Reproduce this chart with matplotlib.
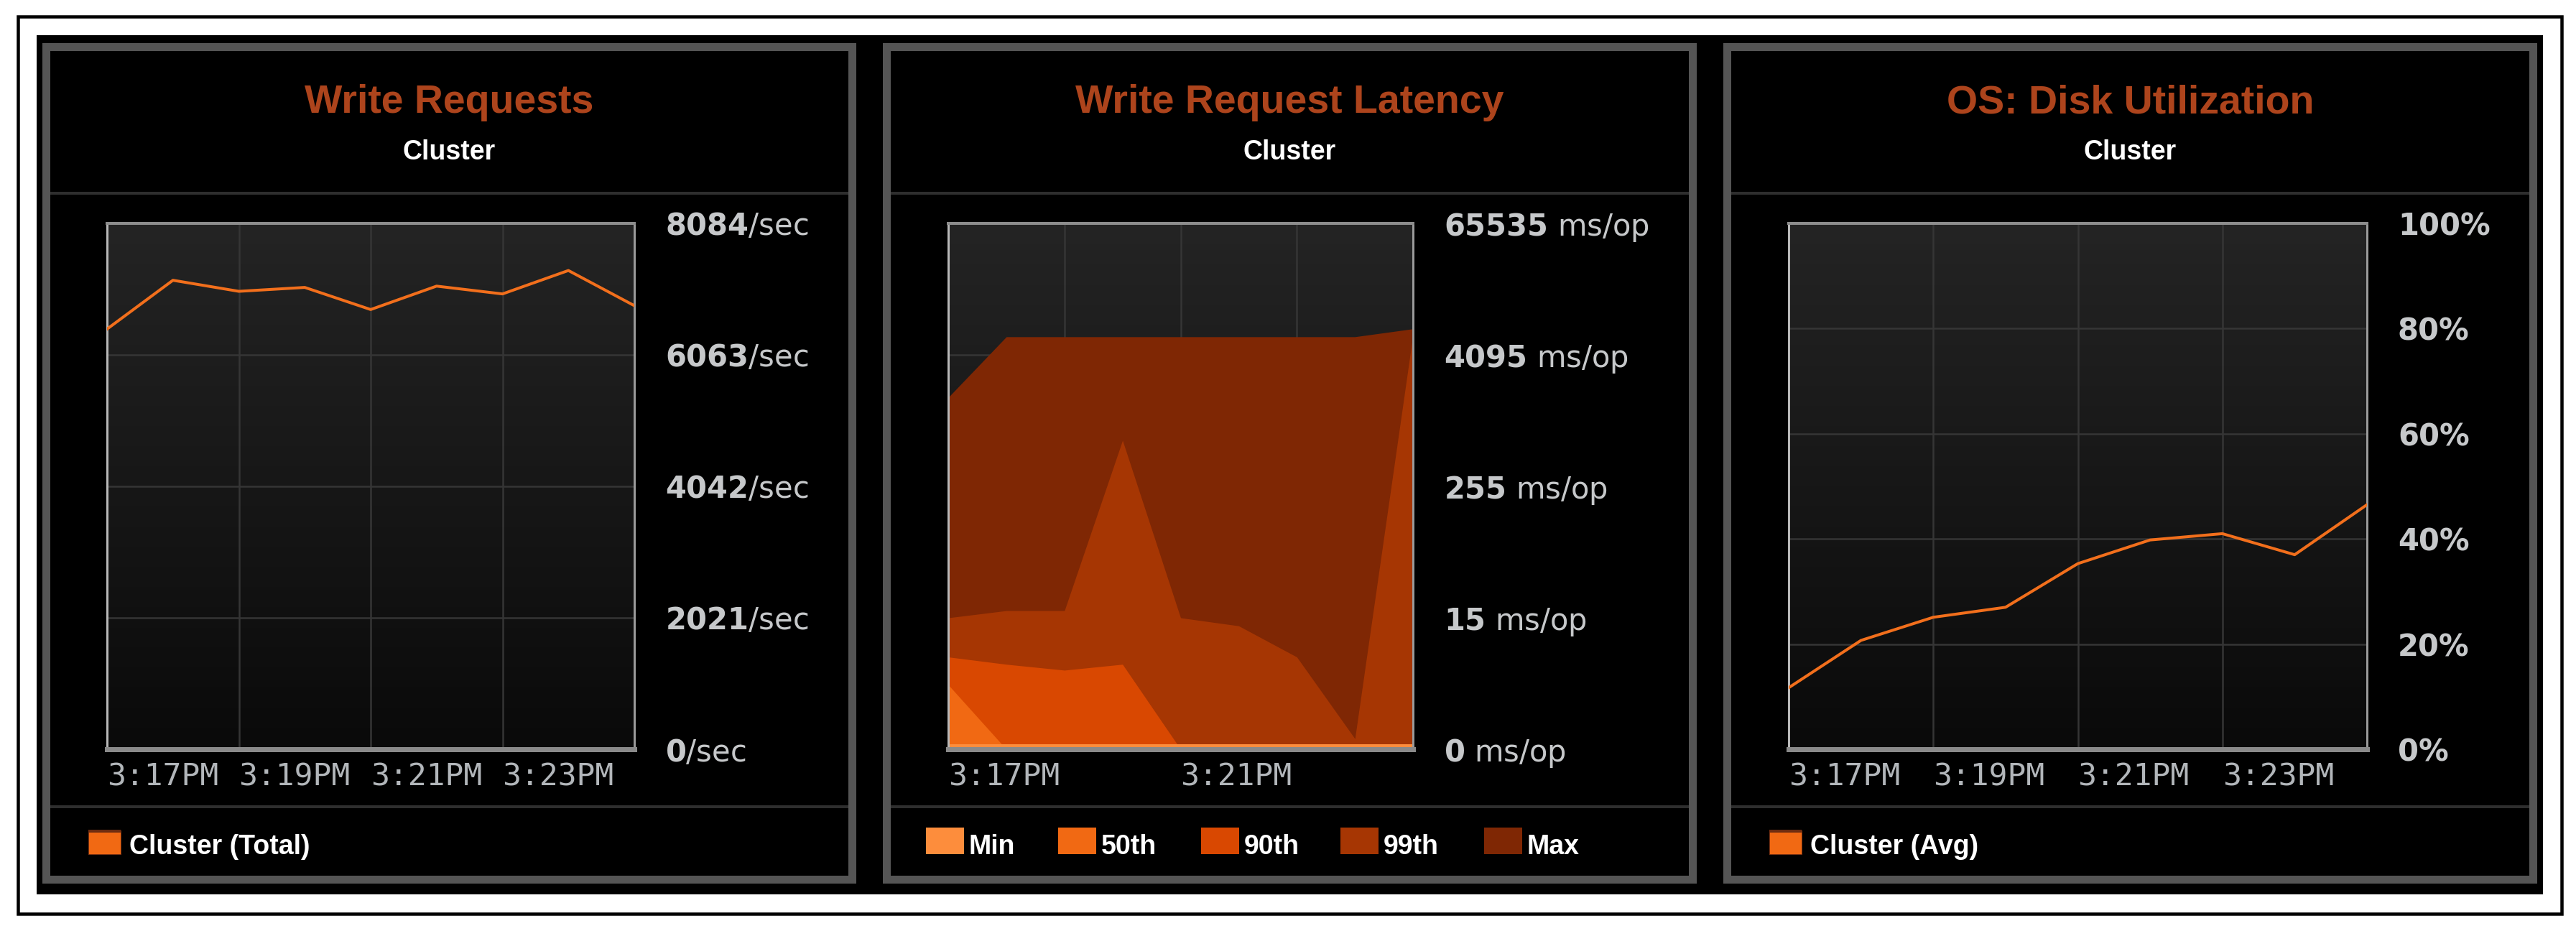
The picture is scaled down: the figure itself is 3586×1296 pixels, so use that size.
#!/usr/bin/env python3
"""
Cluster dashboard snapshot: write requests, write latency and disk utilization
"""
import numpy as np
import pandas as pd
import matplotlib
matplotlib.use('Agg')
import matplotlib.pyplot as plt
import matplotlib.patches as mpatches
from matplotlib.colors import LinearSegmentedColormap

W, H = 3587, 1296
DPI = 100

# one sample per minute
TIMES = ['15:17', '15:18', '15:19', '15:20', '15:21', '15:22', '15:23', '15:24', '15:25']
TIME_TICKS = ['15:17', '15:19', '15:21', '15:23']
TIME_LABELS = ['3:17PM', '3:19PM', '3:21PM', '3:23PM']
LAT_TIME_LABELS = ['3:17PM', '', '3:21PM', '']

TITLES = ['Write Requests', 'Write Request Latency', 'OS: Disk Utilization']
SUBTITLE = 'Cluster'

WRITE_REQUESTS = [6460, 7210, 7040, 7100, 6760, 7120, 7000, 7360, 6820]
WRITE_TICKS = [0, 2021, 4042, 6063, 8084]

# latency in ms/op
LAT_NAMES = ['Min', '50th', '90th', '99th', 'Max']
LAT_MIN = [0, 0, 0, 0, 0, 0, 0, 0, 0]
LAT_P50 = [2.9, 0, 0, 0, 0, 0, 0, 0, 0]
LAT_P90 = [6.0, 5.0, 4.3, 5.0, 0, 0, 0, 0, 0]
LAT_P99 = [15, 17.6, 17.6, 675, 15, 12.5, 6.0, 0.25, 6300]
LAT_MAX = [1670, 6000, 6000, 6000, 6000, 6000, 6000, 6000, 7100]
LAT_TICKS = [0, 15, 255, 4095, 65535]

DISK_UTIL = [11.7, 20.7, 25.1, 27.0, 35.3, 39.8, 41.0, 37.0, 46.5]
DISK_TICKS = [0, 20, 40, 60, 80, 100]

LEGEND_1 = 'Cluster (Total)'
LEGEND_3 = 'Cluster (Avg)'

ORANGES = ['#fd8d3c', '#f16913', '#d94801', '#a63603', '#7f2704']
LINE_COLOR = '#f26f1c'
TITLE_COLOR = '#ad441c'
LABEL_COLOR = '#c6c8ca'
TIME_COLOR = '#b2b6ba'
UI_FONT = ['Liberation Sans', 'DejaVu Sans']

# layout, in pixels of the final image
PANEL_LEFT = [59, 1229, 2399]
PANEL_W = 1133
PANEL_TOP, PANEL_BOTTOM = 60, 1230
BORDER = 11
PLOT_X = [(149, 883), (1320, 1967), (2490, 3295)]
PLOT_TOP, PLOT_BOTTOM = 311, 1043


def px(v):
    return v * 72.0 / DPI


def fig_rect(x0, y0, x1, y1):
    return [x0 / W, 1 - y1 / H, (x1 - x0) / W, (y1 - y0) / H]


def draw_frame(bg):
    bg.add_patch(mpatches.Rectangle((25, 23), 3541, 1249, fill=False,
                                    edgecolor='black', lw=px(4.5)))
    bg.add_patch(mpatches.Rectangle((51, 49), 3540 - 51, 1245 - 49,
                                    facecolor='black', lw=0))
    grad = np.linspace(0, 1, 256).reshape(-1, 1)
    cmap = LinearSegmentedColormap.from_list('plotbg', ['#242424', '#0a0a0a'])
    for i, left in enumerate(PANEL_LEFT):
        bg.add_patch(mpatches.Rectangle((left, PANEL_TOP), PANEL_W,
                                        PANEL_BOTTOM - PANEL_TOP,
                                        facecolor='#555555', lw=0))
        il, ir = left + BORDER, left + PANEL_W - BORDER
        bg.add_patch(mpatches.Rectangle((il, PANEL_TOP + BORDER), ir - il,
                                        PANEL_BOTTOM - PANEL_TOP - 2 * BORDER,
                                        facecolor='black', lw=0))
        for y in (269, 1123):
            bg.plot([il, ir], [y, y], color='#2e2e2e', lw=px(4),
                    solid_capstyle='butt')
        cx = left + PANEL_W / 2
        bg.text(cx, 157, TITLES[i], color=TITLE_COLOR, fontsize=40,
                family=UI_FONT, fontweight='bold', ha='center', va='baseline')
        bg.text(cx, 222, SUBTITLE, color='white', fontsize=27,
                family=UI_FONT, fontweight='bold', ha='center', va='baseline')
        x0, x1 = PLOT_X[i]
        bg.imshow(grad, cmap=cmap, extent=(x0, x1, PLOT_BOTTOM, PLOT_TOP),
                  origin='upper', aspect='auto', zorder=1)
    bg.set_xlim(0, W)
    bg.set_ylim(H, 0)


def legend_item(bg, x, label, color, width=53, top_strip=False):
    if top_strip:
        bg.add_patch(mpatches.Rectangle((x, 1156), 45, 33, facecolor=color,
                                        edgecolor='#7a3212', lw=px(1)))
        bg.add_patch(mpatches.Rectangle((x, 1155), 45, 4,
                                        facecolor='#6e2c10', lw=0))
        tx = x + 57
    else:
        bg.add_patch(mpatches.Rectangle((x, 1152), width, 37,
                                        facecolor=color, lw=0))
        tx = x + 60
    bg.text(tx, 1189, label, color='white', fontsize=27, family=UI_FONT,
            fontweight='bold', ha='left', va='baseline')


def style_axes(ax, times, xlabels):
    ax.set_facecolor('none')
    ax.grid(True, color='#353535', lw=px(2.5), zorder=0)
    ax.set_axisbelow(True)
    ax.set_xlim(times[0], times[-1])
    ticks = pd.to_datetime(TIME_TICKS, format='%H:%M')
    ax.set_xticks(ticks, xlabels)
    ax.yaxis.tick_right()
    ax.tick_params(axis='y', length=0, pad=px(43), labelsize=30,
                   labelcolor=LABEL_COLOR)
    ax.tick_params(axis='x', length=0, pad=px(18), labelsize=31,
                   labelcolor=TIME_COLOR)
    for lbl in ax.get_xticklabels():
        lbl.set_fontfamily('DejaVu Sans Mono')
        lbl.set_horizontalalignment('left')
    ax.spines['top'].set_color('#8c8c8c')
    ax.spines['top'].set_linewidth(px(4))
    ax.spines['left'].set_color('#b8b8b8')
    ax.spines['left'].set_linewidth(px(3))
    ax.spines['right'].set_color('#9a9a9a')
    ax.spines['right'].set_linewidth(px(3))
    ax.spines['bottom'].set_color('#8a8a8a')
    ax.spines['bottom'].set_linewidth(px(7))


def main():
    fig = plt.figure(figsize=(W / DPI, H / DPI), dpi=DPI, facecolor='white')
    bg = fig.add_axes([0, 0, 1, 1])
    bg.axis('off')
    draw_frame(bg)

    times = pd.to_datetime(TIMES, format='%H:%M')

    # Write requests
    ax1 = fig.add_axes(fig_rect(PLOT_X[0][0], PLOT_TOP, PLOT_X[0][1], PLOT_BOTTOM))
    ax1.plot(times, WRITE_REQUESTS, color=LINE_COLOR, lw=px(4), zorder=3)
    ax1.set_ylim(WRITE_TICKS[0], WRITE_TICKS[-1])
    style_axes(ax1, times, TIME_LABELS)
    ax1.set_yticks(WRITE_TICKS, [r'$\mathbf{%d}$/sec' % v for v in WRITE_TICKS])

    # Write latency, log2(v + 1) axis
    ax2 = fig.add_axes(fig_rect(PLOT_X[1][0], PLOT_TOP, PLOT_X[1][1], PLOT_BOTTOM))
    ax2.set_yscale('function', functions=(lambda v: np.log2(np.maximum(v, 0) + 1),
                                          lambda y: np.power(2.0, y) - 1))
    series = [LAT_MIN, LAT_P50, LAT_P90, LAT_P99, LAT_MAX]
    for vals, color in list(zip(series, ORANGES))[::-1]:
        ax2.fill_between(times, 0, vals, color=color, lw=0, zorder=1)
    ax2.plot(times, LAT_MIN, color=ORANGES[0], lw=px(14), zorder=2)
    ax2.set_ylim(LAT_TICKS[0], LAT_TICKS[-1])
    style_axes(ax2, times, LAT_TIME_LABELS)
    ax2.set_yticks(LAT_TICKS, [r'$\mathbf{%d}$ ms/op' % v for v in LAT_TICKS])
    ax2.yaxis.set_minor_locator(matplotlib.ticker.NullLocator())

    # Disk utilization
    ax3 = fig.add_axes(fig_rect(PLOT_X[2][0], PLOT_TOP, PLOT_X[2][1], PLOT_BOTTOM))
    ax3.plot(times, DISK_UTIL, color=LINE_COLOR, lw=px(4), zorder=3)
    ax3.set_ylim(DISK_TICKS[0], DISK_TICKS[-1])
    style_axes(ax3, times, TIME_LABELS)
    ax3.set_yticks(DISK_TICKS, ['%d%%' % v for v in DISK_TICKS])
    for lbl in ax3.get_yticklabels():
        lbl.set_fontweight('bold')

    legend_item(bg, 123, LEGEND_1, ORANGES[1], top_strip=True)
    for x, name, color in zip([1289, 1473, 1672, 1866, 2066], LAT_NAMES, ORANGES):
        legend_item(bg, x, name, color)
    legend_item(bg, 2463, LEGEND_3, ORANGES[1], top_strip=True)

    fig.savefig('out.png', dpi=DPI, facecolor='white')
    plt.close(fig)


if __name__ == '__main__':
    main()
